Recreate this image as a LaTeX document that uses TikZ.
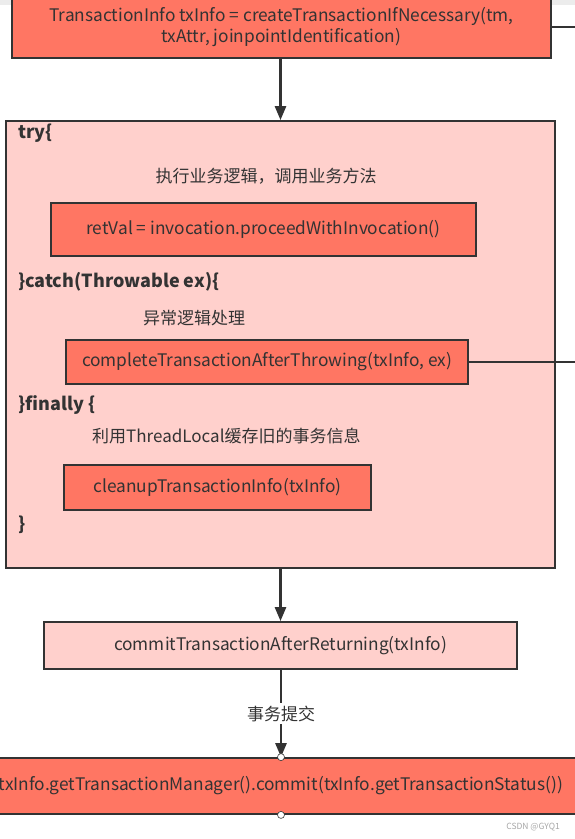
\documentclass[tikz,border=0pt]{standalone}
\usepackage{fontspec}
\setmainfont{Noto Sans CJK SC}
\usetikzlibrary{arrows.meta, positioning}
\definecolor{salmon}{RGB}{255,118,99}
\definecolor{blush}{RGB}{255,208,204}
\definecolor{inkgray}{RGB}{51,51,51}
\definecolor{barbg}{RGB}{236,236,236}

\begin{document}
\begin{tikzpicture}[
    x=1pt, y=-1pt,
    box/.style={draw=inkgray, line width=1.8pt, fill=#1, text=inkgray,
                inner sep=0pt, align=center, font=\fontsize{17.3}{21}\selectfont},
    kw/.style={anchor=west, text=inkgray, inner sep=0pt,
               font=\fontsize{18}{21}\selectfont\bfseries},
    note/.style={text=inkgray, inner sep=0pt, font=\fontsize{17}{21}\selectfont},
    arrow/.style={-{Triangle[length=14pt, width=11pt]}, line width=2.6pt, draw=inkgray},
    link/.style={line width=1.4pt, draw=inkgray}
]
    \clip (0,0) rectangle (575,839);
    \fill[barbg] (0,0) rectangle (575,5);

    % Nodes
    \node[box=salmon, minimum width=539, minimum height=62] (txinfo) at (281.5,27)
        {TransactionInfo txInfo = createTransactionIfNecessary(tm,\\txAttr, joinpointIdentification)};
    \node[box=blush, minimum width=549, minimum height=447] (trybox) at (280.5,344.5) {};
    \node[kw] (try) at (18,133) {try\{};
    \node[note] (bizlabel) at (266,176) {执行业务逻辑，调用业务方法};
    \node[box=salmon, minimum width=425, minimum height=53] (proceed) at (263.5,229.5)
        {retVal = invocation.proceedWithInvocation()};
    \node[kw] (catch) at (18,282) {\}catch(Throwable ex)\{};
    \node[note, anchor=west] (errlabel) at (143,318) {异常逻辑处理};
    \node[box=salmon, minimum width=402, minimum height=44] (throwing) at (267,362)
        {completeTransactionAfterThrowing(txInfo, ex)};
    \node[kw] (finally) at (18,405) {\}finally \{};
    \node[note, anchor=west] (cachelabel) at (92,436) {利用ThreadLocal缓存旧的事务信息};
    \node[box=salmon, minimum width=307, minimum height=45] (cleanup) at (217.5,487.5)
        {cleanupTransactionInfo(txInfo)};
    \node[kw] (close) at (18,525) {\}};
    \node[box=blush, minimum width=473, minimum height=47] (returning) at (280.5,645.5)
        {commitTransactionAfterReturning(txInfo)};
    \node[box=salmon, minimum width=602, minimum height=56] (commit) at (281,786)
        {txInfo.getTransactionManager().commit(txInfo.getTransactionStatus())};
    \node[text=gray!70, inner sep=0pt, anchor=east, font=\fontsize{8.5}{10}\selectfont] (mark)
        at (560,827) {CSDN @GYQ1};

    \coordinate (topexit) at (575,27);
    \coordinate (catchexit) at (575,362);

    % Arrows
    \draw[arrow] (txinfo.south -| trybox.north) -- (trybox.north);
    \draw[arrow] (trybox.south) -- (returning.north -| trybox.south);
    \draw[arrow] (returning.south -| commit.north) -- node[fill=white, note, inner sep=3pt] {事务提交} (commit.north);
    \draw[link] (txinfo.east) -- (topexit);
    \draw[link] (throwing.east) -- (catchexit);

    % Handles
    \draw[inkgray, fill=white, line width=0.6pt] (commit.north) circle (3.5);
    \draw[inkgray, fill=white, line width=0.6pt] (commit.south) circle (3.5);
\end{tikzpicture}
\end{document}
